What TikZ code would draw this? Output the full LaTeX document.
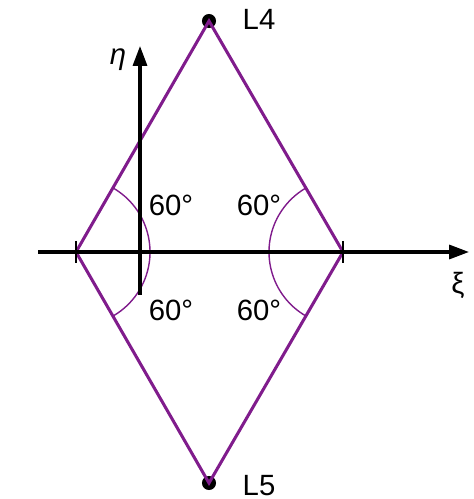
\documentclass[tikz,border=0pt]{standalone}
\usepackage{fontspec}
\setmainfont{Liberation Sans}
\usetikzlibrary{arrows.meta}
\definecolor{rhombus}{RGB}{128,28,140}

\begin{document}
\begin{tikzpicture}[x=0.015cm,y=-0.015cm,
    side/.style={draw=rhombus,line width=1.3pt},
    anglearc/.style={draw=rhombus,line width=0.6pt},
    axis/.style={line width=1.3pt,-{Triangle[length=8.5pt,width=6pt]}},
    point/.style={circle,fill=black,inner sep=0pt,minimum size=6pt},
    lbl/.style={font=\fontsize{12.5}{14}\selectfont}]
                    \useasboundingbox (0,0) rectangle (474,499);

                    \node[point] (L4) at (209,21) {};
                    \node[point] (L5) at (209,483) {};
                    \coordinate (vl) at (76,252);
                    \coordinate (vr) at (343,252);

                    \path[side] (vl) -- (L4.center) -- (vr) -- (L5.center) -- cycle;
                    \draw[anglearc] (vl) ++(-60:74) arc (-60:60:74);
                    \draw[anglearc] (vr) ++(120:74) arc (120:240:74);

                    \coordinate (xs) at (38,252);
                    \coordinate (xe) at (469,252);
                    \coordinate (ys) at (140,295);
                    \coordinate (ye) at (140,46);
                    \draw[axis] (xs) -- (xe);
                    \draw[axis] (ys) -- (ye);

                    \draw[line width=0.6pt] (vl) ++(0,-11) -- ++(0,22);
                    \draw[line width=0.6pt] (vr) ++(0,-11) -- ++(0,22);

                    \node[lbl] (l4) at (259,19) {L4};
                    \node[lbl] (l5) at (259,486) {L5};
                    \node[lbl] (eta) at (118,60) {\textit{η}};
                    \node[lbl] (xi) at (458,285) {ξ};
                    \node[lbl] (a1) at (171,205) {60°};
                    \node[lbl] (a2) at (259,205) {60°};
                    \node[lbl] (a3) at (171,310) {60°};
                    \node[lbl] (a4) at (259,310) {60°};
                \end{tikzpicture}
\end{document}
